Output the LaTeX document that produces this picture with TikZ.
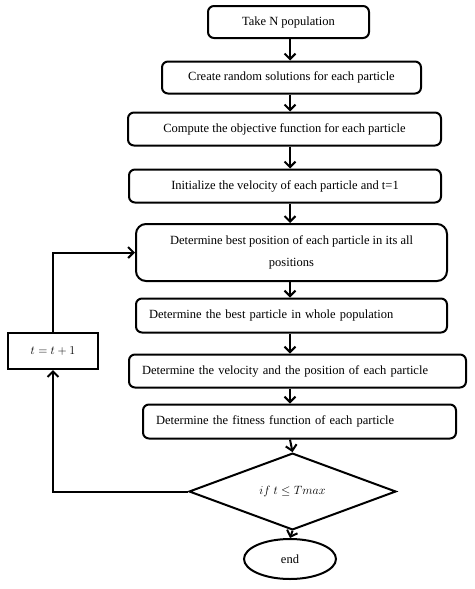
\documentclass[tikz,border=0pt]{standalone}
\usepackage{fontspec}
\setmainfont{Liberation Serif}
\usetikzlibrary{shapes.geometric,arrows.meta,calc}

\begin{document}
\begin{tikzpicture}[x=1pt,y=-1pt,line width=2pt,
    box/.style = {draw, rounded corners=6pt, font=\fontsize{12.5}{14}\selectfont, inner sep=0pt},
    lbox/.style = {box, align=left, inner xsep=13pt},
    arr/.style = {-{Straight Barb[length=5.5pt,width=11pt]}}]
            \useasboundingbox (0,0) rectangle (474,589);
            \coordinate (col) at (290,0);
            \node[box, minimum width=161, minimum height=32] (take) at (288.5,22) {Take N population};
            \node[box, minimum width=259, minimum height=32] (create) at (291.5,77.5) {Create random solutions for each particle};
            \node[box, minimum width=313, minimum height=33] (objective) at (284.5,129) {Compute the objective function for each particle};
            \node[box, minimum width=312, minimum height=33] (init) at (285,186) {Initialize the velocity of each particle and t=1};
            \node[box, rounded corners=10pt, minimum width=311, minimum height=57, align=center,
                  font=\fontsize{12.5}{22}\selectfont] (best) at (291.5,252.5) {Determine best position of each particle in its all\\positions};
            \node[lbox, text width=285, minimum height=34] (whole) at (291.5,315.5) {Determine the best particle in whole population};
            \node[lbox, text width=311, minimum height=33] (velocity) at (297.5,371) {Determine the velocity and the position of each particle};
            \node[lbox, text width=287, minimum height=34] (fitness) at (299.5,421.5) {Determine the fitness function of each particle};
            \node[draw, diamond, minimum width=207, minimum height=65, inner sep=0pt,
                  font=\fontsize{12.5}{14}\selectfont] (check) at (292.5,491.5) {$if\ t \leq Tmax$};
            \node[draw, ellipse, minimum width=92, minimum height=40, inner sep=0pt,
                  font=\fontsize{12.5}{14}\selectfont] (end) at (290,559) {end};
            \node[draw, minimum width=90, minimum height=36, inner sep=0pt,
                  font=\fontsize{12.5}{14}\selectfont] (incr) at (53,351) {$t=t+1$};
            \draw[arr] (take.south -| col) -- (create.north -| col);
            \draw[arr] (create.south -| col) -- (objective.north -| col);
            \draw[arr] (objective.south -| col) -- (init.north -| col);
            \draw[arr] (init.south -| col) -- (best.north -| col);
            \draw[arr] (best.south -| col) -- (whole.north -| col);
            \draw[arr] (whole.south -| col) -- (velocity.north -| col);
            \draw[arr] (velocity.south -| col) -- (fitness.north -| col);
            \draw[arr] (fitness.south -| col) -- (check.north);
            \draw[arr] (check.south) -- (end.north);
            \draw[arr] (check.west) -| (incr.south);
            \draw[arr] (incr.north) |- (best.west);
        \end{tikzpicture}
\end{document}
